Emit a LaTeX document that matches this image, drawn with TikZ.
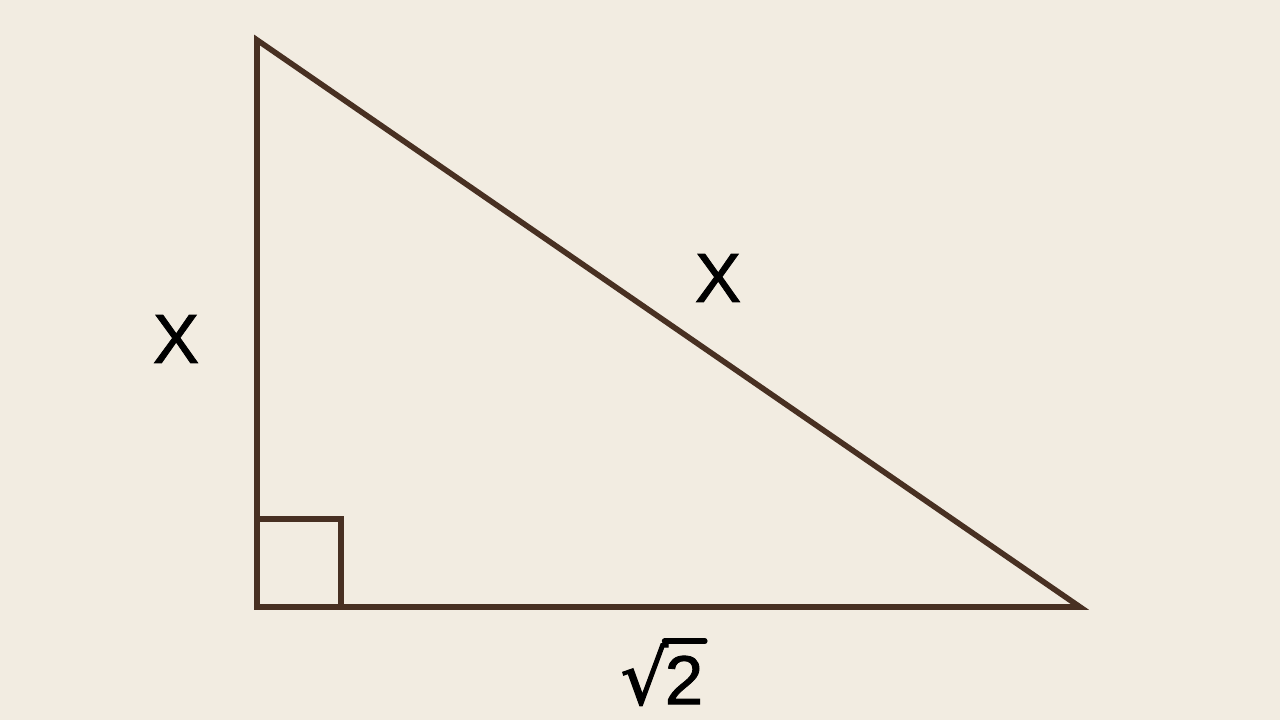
\documentclass[tikz,border=0pt]{standalone}
\usepackage{fontspec}
\setmainfont{Liberation Sans}
\newfontfamily\markerfont[FakeBold=1.2]{Liberation Sans}
\newfontfamily\rootfont[FakeBold=1.5]{DejaVu Sans}

\definecolor{paper}{RGB}{242,236,225}
\definecolor{ink}{RGB}{72,48,34}

\tikzset{every picture/.style={line width=0.75pt}}
\tikzset{
  side/.style={color=ink, line width=4.2pt, line join=miter, line cap=butt},
  lbl/.style={inner sep=0.75pt, font=\markerfont\fontsize{52}{56}\selectfont, text=black},
  rootlbl/.style={inner sep=0pt, text depth=0pt, font=\rootfont\fontsize{56}{60}\selectfont, text=black},
  radical/.style={draw=black, line width=4.2pt, line cap=round}
}

\begin{document}
\begin{tikzpicture}[x=0.75pt,y=0.75pt,yscale=-1,xscale=1]
%set diagram to 1280 x 720
\fill [paper] (0,0) rectangle (1280,720);

%Vertices
\coordinate (top) at (257,40);
\coordinate (corner) at (257,607);
\coordinate (right) at (1080,607);

%Shape: Triangle
\draw [side] (top) -- (corner) -- (right) -- cycle;
%Right angle mark
\coordinate (markA) at (257,519);
\coordinate (markB) at (341,519);
\coordinate (markC) at (341,607);
\draw [side] (markA) -- (markB) -- (markC);

% Text Node
\node [lbl] (legX) at (176,339) {X};
% Text Node
\node [lbl] (hypX) at (718,278) {X};
% Text Node
\node [lbl] (baseTwo) at (684,680) {2};
% Text Node
\node [rootlbl, anchor=base east] (baseRoot) at ([xshift=4]baseTwo.base west) {√};
% Bar of the root
\draw [radical] ([xshift=-3,yshift=-1.5]baseRoot.north east) -- ([yshift=-1.5]baseRoot.north east -| baseTwo.east);

\end{tikzpicture}
\end{document}
